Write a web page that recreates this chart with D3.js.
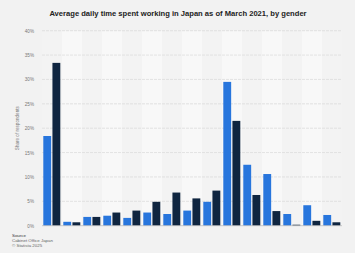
<!DOCTYPE html>
<html>
<head>
<meta charset="utf-8">
<script src="https://cdn.jsdelivr.net/npm/d3@7"></script>
<style>
  body { margin: 0; background: #f2f2f2; }
  svg { display: block; font-family: "Liberation Sans", Arial, sans-serif; }
</style>
</head>
<body>
<svg id="chart" width="355" height="253"></svg>
<script>
// categories are not labelled in the picture
var categories = ["c1","c2","c3","c4","c5","c6","c7","c8","c9","c10","c11","c12","c13","c14","c15"];
var seriesNames = ["Female", "Male"];
var femaleValues = [18.4, 0.8, 1.8, 2.05, 1.6, 2.7, 2.4, 3.1, 4.9, 29.5, 12.5, 10.6, 2.4, 4.2, 2.2];
var maleValues   = [33.4, 0.7, 1.8, 2.7, 3.1, 4.9, 6.8, 5.6, 7.2, 21.5, 6.3, 3.0, 0.2, 1.0, 0.7];
var yTicks = [0, 5, 10, 15, 20, 25, 30, 35, 40];
var colors = ["#2876dd", "#0f2540"];

var svg = d3.select("#chart");
var plotLeft = 42, plotRight = 342, plotTop = 30.7, plotBottom = 225.7;

var x = d3.scaleBand().domain(categories).range([plotLeft, plotRight]).padding(0);
var x1 = d3.scaleBand().domain(seriesNames).range([1.3, x.bandwidth() - 1.7]).paddingInner(0.14);
var y = d3.scaleLinear().domain([0, 40]).range([plotBottom, plotTop]);

// title
svg.append("text")
    .attr("x", 178).attr("y", 15.5)
    .attr("text-anchor", "middle")
    .style("font-size", "7.6px").style("font-weight", "bold").style("fill", "#222")
    .text("Average daily time spent working in Japan as of March 2021, by gender");

// stripes
svg.append("g").selectAll("rect").data(categories).enter().append("rect")
    .attr("x", function(d){ return x(d); })
    .attr("y", plotTop)
    .attr("width", x.bandwidth())
    .attr("height", plotBottom - plotTop)
    .style("fill", function(d,i){ return i % 2 == 1 ? "#f8f8f8" : "#f3f3f3"; });

// gridlines
svg.append("g").selectAll("line").data(yTicks.slice(1)).enter().append("line")
    .attr("x1", plotLeft).attr("x2", plotRight)
    .attr("y1", function(d){ return y(d); })
    .attr("y2", function(d){ return y(d); })
    .style("stroke", "#d9d9d9").style("stroke-width", 0.7)
    .style("stroke-dasharray", "3,1");

// y axis
var yAxis = svg.append("g")
    .attr("transform", "translate(" + plotLeft + ",0)")
    .call(d3.axisLeft(y).tickValues(yTicks).tickSize(0).tickPadding(8).tickFormat(function(d){ return d + "%"; }));
yAxis.select(".domain").remove();
yAxis.selectAll("text").style("font-size", "4.6px").style("fill", "#777").style("font-family", "Liberation Sans, Arial, sans-serif");

svg.append("text")
    .attr("transform", "translate(19," + ((plotTop + plotBottom) / 2) + ") rotate(-90)")
    .attr("text-anchor", "middle")
    .style("font-size", "4.6px").style("fill", "#777")
    .text("Share of respondents");

// bars
var groups = svg.append("g").selectAll("g").data(categories).enter().append("g")
    .attr("transform", function(d){ return "translate(" + x(d) + ",0)"; });

groups.selectAll("rect")
    .data(function(d,i){ return [{k: seriesNames[0], v: femaleValues[i]}, {k: seriesNames[1], v: maleValues[i]}]; })
    .enter().append("rect")
    .attr("x", function(d){ return x1(d.k); })
    .attr("y", function(d){ return y(d.v); })
    .attr("width", x1.bandwidth())
    .attr("height", function(d){ return plotBottom - y(d.v); })
    .style("fill", function(d,i){ return colors[i]; });

// baseline
svg.append("line")
    .attr("x1", plotLeft).attr("x2", plotRight)
    .attr("y1", plotBottom).attr("y2", plotBottom)
    .style("stroke", "#bbb").style("stroke-width", 0.8);

// source
var src = svg.append("g").style("font-size", "4.4px").style("fill", "#666");
src.append("text").attr("x", 12).attr("y", 237).style("fill", "#333").text("Source");
src.append("text").attr("x", 12).attr("y", 242).text("Cabinet Office Japan");
src.append("text").attr("x", 12).attr("y", 247).text("© Statista 2025");
</script>
</body>
</html>
